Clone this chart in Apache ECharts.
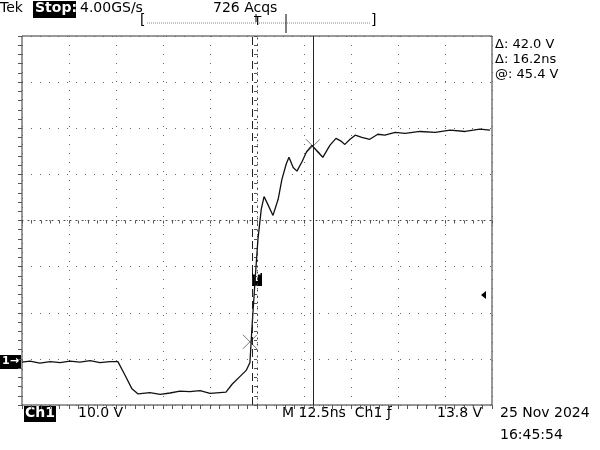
<!DOCTYPE html><html><head><meta charset="utf-8"><script src="https://cdn.jsdelivr.net/npm/echarts@6/dist/echarts.min.js"></script>
<style>body{margin:0;background:#fff}#c{width:600px;height:450px}</style></head><body><div id="c"></div><script>
const timeDiv=[0,0.17,0.38,0.60,0.81,1.02,1.23,1.45,1.66,1.87,2.04,2.19,2.34,2.47,2.72,2.94,3.15,3.36,3.57,3.79,4.00,4.21,4.34,4.47,4.64,4.77,4.85,4.89,4.96,5.02,5.09,5.15,5.23,5.34,5.45,5.53,5.62,5.68,5.77,5.85,5.96,6.06,6.17,6.28,6.40,6.55,6.68,6.79,6.87,6.98,7.09,7.23,7.40,7.57,7.72,7.94,8.15,8.47,8.79,9.11,9.43,9.74,9.96];
const voltDiv=[0.93,0.95,0.91,0.94,0.92,0.95,0.93,0.96,0.92,0.94,0.94,0.65,0.35,0.24,0.27,0.23,0.26,0.30,0.29,0.31,0.25,0.27,0.28,0.45,0.62,0.75,0.92,1.63,2.72,3.59,4.24,4.52,4.35,4.11,4.46,4.89,5.22,5.37,5.15,5.07,5.28,5.50,5.63,5.50,5.37,5.63,5.78,5.72,5.65,5.76,5.85,5.80,5.76,5.87,5.85,5.91,5.89,5.93,5.91,5.96,5.93,5.98,5.96];
const cursorX=[4.89,6.19];
const crossPts=[[4.85,1.37],[6.19,5.61]];
const rightTexts=['\u0394: 42.0 V','\u0394: 16.2ns','@: 45.4 V'];
const ch=echarts.init(document.getElementById('c'));
const G={left:22,top:36,width:470,height:369};
const F='DejaVu Sans';
const tick={show:true,inside:true,length:4,lineStyle:{color:'#555'}};
const ax=(min,max,iv,extra)=>Object.assign({type:'value',min,max,interval:iv,axisLabel:{show:false},splitLine:{show:false},axisLine:{show:false},axisTick:{show:false}},extra);
ch.setOption({animation:false,
grid:[Object.assign({},G,{show:true,borderColor:'#333',borderWidth:1}),Object.assign({},G)],
xAxis:[ax(0,10,1,{gridIndex:0,splitLine:{show:true,lineStyle:{type:[1,8],color:'#666'}}}),
 ax(0,10,0.2,{gridIndex:0,axisTick:tick}),
 ax(0,10,0.2,{gridIndex:0,position:'top',axisTick:tick}),
 ax(-5,5,0.2,{gridIndex:1,axisLine:{show:true,onZero:true,lineStyle:{color:'#444',type:[1,5]}},axisTick:Object.assign({},tick,{inside:false,length:3})})],
yAxis:[ax(0,8,1,{gridIndex:0,splitLine:{show:true,lineStyle:{type:[1,8],color:'#666'}}}),
 ax(0,8,0.2,{gridIndex:0,axisTick:tick}),
 ax(0,8,0.2,{gridIndex:0,position:'right',axisTick:tick}),
 ax(-4,4,0.2,{gridIndex:1,axisLine:{show:true,onZero:true,lineStyle:{color:'#444',type:[1,5]}},axisTick:Object.assign({},tick,{inside:false,length:3})})],
series:[{type:'line',xAxisIndex:0,yAxisIndex:0,symbol:'none',data:timeDiv.map((t,i)=>[t,voltDiv[i]]),lineStyle:{color:'#111',width:1.3},
 markLine:{symbol:'none',silent:true,label:{show:false},data:[{xAxis:cursorX[0],lineStyle:{type:[8,4],color:'#222',width:1}},{xAxis:cursorX[1],lineStyle:{type:'solid',color:'#222',width:1}}]}},
 {type:'scatter',xAxisIndex:0,yAxisIndex:0,symbol:'path://M0,0L10,10M10,0L0,10',symbolSize:14,itemStyle:{color:'none',borderColor:'#555',borderWidth:1},data:crossPts}],
graphic:[
 {type:'text',left:0,top:1,style:{text:'Tek',font:'14px '+F,fill:'#000'}},
 {type:'rect',shape:{x:33,y:1,width:43,height:17},style:{fill:'#000'}},
 {type:'text',left:35,top:1,style:{text:'Stop:',font:'bold 14px '+F,fill:'#fff'}},
 {type:'text',left:80,top:1,style:{text:'4.00GS/s',font:'14px '+F,fill:'#000'}},
 {type:'text',left:213,top:1,style:{text:'726 Acqs',font:'14px '+F,fill:'#000'}},
 {type:'text',left:140,top:13,style:{text:'[',font:'14px '+F,fill:'#000'}},
 {type:'text',left:371,top:13,style:{text:']',font:'14px '+F,fill:'#000'}},
 {type:'line',shape:{x1:147,y1:23,x2:370,y2:23},style:{stroke:'#888',lineDash:[1,1]}},
 {type:'line',shape:{x1:286,y1:14,x2:286,y2:33},style:{stroke:'#000'}},
 {type:'text',left:254,top:16,style:{text:'T',font:'12px '+F,fill:'#000'}},
 {type:'line',shape:{x1:256,y1:14,x2:256,y2:22},style:{stroke:'#000'}},
 ...rightTexts.map((t,i)=>({type:'text',left:495,top:38+i*15,style:{text:t,font:'13px '+F,fill:'#000'}})),
 {type:'rect',shape:{x:0,y:355,width:21,height:14},style:{fill:'#000'}},
 {type:'text',left:2,top:356,style:{text:'1\u2192',font:'bold 11px '+F,fill:'#fff'}},
 {type:'rect',shape:{x:252,y:273,width:10,height:13},style:{fill:'#000'}},
 {type:'text',left:253,top:273,style:{text:'T',font:'bold 11px '+F,fill:'#fff'}},
 {type:'polygon',shape:{points:[[481,295],[486,291],[486,299]]},style:{fill:'#000'}},
 {type:'rect',shape:{x:24,y:406,width:32,height:16},style:{fill:'#000'}},
 {type:'text',left:25,top:406,style:{text:'Ch1',font:'bold 14px '+F,fill:'#fff'}},
 {type:'text',left:78,top:406,style:{text:'10.0 V',font:'14px '+F,fill:'#000'}},
 {type:'text',left:282,top:406,style:{text:'M 12.5ns  Ch1 \u0192',font:'14px '+F,fill:'#000'}},
 {type:'text',left:437,top:406,style:{text:'13.8 V',font:'14px '+F,fill:'#000'}},
 {type:'text',left:500,top:406,style:{text:'25 Nov 2024',font:'14px '+F,fill:'#000'}},
 {type:'text',left:500,top:428,style:{text:'16:45:54',font:'14px '+F,fill:'#000'}}
]});
</script></body></html>
